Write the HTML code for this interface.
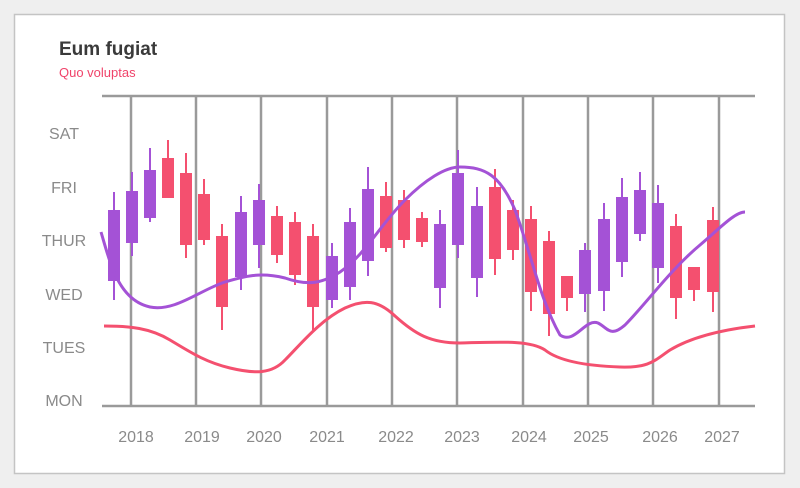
<!DOCTYPE html>
<html><head><meta charset="utf-8"><style>
body{margin:0;background:#efefef;}
svg{display:block;font-family:"Liberation Sans",sans-serif;}
</style></head><body>
<svg width="800" height="488" viewBox="0 0 800 488">
<rect x="0" y="0" width="800" height="488" fill="#efefef"/>
<rect x="14.5" y="14.5" width="770" height="459" fill="#fff" stroke="#c4c4c4" stroke-width="1.5"/>
<text x="59" y="55" font-size="19" font-weight="bold" fill="#3a3a3a">Eum fugiat</text>
<text x="59" y="77" font-size="13" fill="#f0436a">Quo voluptas</text>
<g stroke="#9a9a9a" stroke-width="2.5">
<line x1="102" y1="96" x2="755" y2="96"/><line x1="102" y1="406" x2="755" y2="406"/>
<line x1="131" y1="96" x2="131" y2="406"/><line x1="196" y1="96" x2="196" y2="406"/>
<line x1="261" y1="96" x2="261" y2="406"/><line x1="327" y1="96" x2="327" y2="406"/>
<line x1="392" y1="96" x2="392" y2="406"/><line x1="457" y1="96" x2="457" y2="406"/>
<line x1="523" y1="96" x2="523" y2="406"/><line x1="588" y1="96" x2="588" y2="406"/>
<line x1="653" y1="96" x2="653" y2="406"/><line x1="719" y1="96" x2="719" y2="406"/>
</g>
<g font-size="16" fill="#8a8a8a" text-anchor="middle">
<text x="64" y="139">SAT</text><text x="64" y="193">FRI</text><text x="64" y="246">THUR</text>
<text x="64" y="300">WED</text><text x="64" y="353">TUES</text><text x="64" y="406">MON</text>
<text x="136" y="442">2018</text><text x="202" y="442">2019</text><text x="264" y="442">2020</text>
<text x="327" y="442">2021</text><text x="396" y="442">2022</text><text x="462" y="442">2023</text>
<text x="529" y="442">2024</text><text x="591" y="442">2025</text><text x="660" y="442">2026</text>
<text x="722" y="442">2027</text>
</g>
<g stroke="#a452d6" stroke-width="2">
<line x1="114" y1="192" x2="114" y2="300"/><line x1="132" y1="172" x2="132" y2="256"/><line x1="150" y1="148" x2="150" y2="222"/>
<line x1="241" y1="196" x2="241" y2="290"/><line x1="259" y1="184" x2="259" y2="268"/>
<line x1="332" y1="243" x2="332" y2="308"/><line x1="350" y1="208" x2="350" y2="300"/><line x1="368" y1="167" x2="368" y2="276"/>
<line x1="440" y1="210" x2="440" y2="308"/><line x1="458" y1="150" x2="458" y2="258"/><line x1="477" y1="187" x2="477" y2="297"/>
<line x1="585" y1="243" x2="585" y2="312"/><line x1="604" y1="203" x2="604" y2="311"/><line x1="622" y1="178" x2="622" y2="277"/>
<line x1="640" y1="172" x2="640" y2="241"/><line x1="658" y1="185" x2="658" y2="283"/>
</g>
<g fill="#a452d6">
<rect x="108" y="210" width="12" height="71"/><rect x="126" y="191" width="12" height="52"/><rect x="144" y="170" width="12" height="48"/>
<rect x="235" y="212" width="12" height="65"/><rect x="253" y="200" width="12" height="45"/>
<rect x="326" y="256" width="12" height="44"/><rect x="344" y="222" width="12" height="65"/><rect x="362" y="189" width="12" height="72"/>
<rect x="434" y="224" width="12" height="64"/><rect x="452" y="173" width="12" height="72"/><rect x="471" y="206" width="12" height="72"/>
<rect x="579" y="250" width="12" height="44"/><rect x="598" y="219" width="12" height="72"/><rect x="616" y="197" width="12" height="65"/>
<rect x="634" y="190" width="12" height="44"/><rect x="652" y="203" width="12" height="65"/>
</g>
<g stroke="#f4506f" stroke-width="2">
<line x1="168" y1="140" x2="168" y2="198"/><line x1="186" y1="153" x2="186" y2="258"/><line x1="204" y1="179" x2="204" y2="245"/>
<line x1="222" y1="224" x2="222" y2="330"/><line x1="277" y1="206" x2="277" y2="263"/><line x1="295" y1="212" x2="295" y2="285"/>
<line x1="313" y1="224" x2="313" y2="330"/><line x1="386" y1="182" x2="386" y2="252"/><line x1="404" y1="190" x2="404" y2="248"/>
<line x1="422" y1="212" x2="422" y2="247"/><line x1="495" y1="169" x2="495" y2="275"/><line x1="513" y1="200" x2="513" y2="260"/>
<line x1="531" y1="206" x2="531" y2="311"/><line x1="549" y1="231" x2="549" y2="336"/><line x1="567" y1="276" x2="567" y2="311"/>
<line x1="676" y1="214" x2="676" y2="319"/><line x1="694" y1="267" x2="694" y2="301"/><line x1="713" y1="207" x2="713" y2="312"/>
</g>
<g fill="#f4506f">
<rect x="162" y="158" width="12" height="40"/><rect x="180" y="173" width="12" height="72"/><rect x="198" y="194" width="12" height="46"/>
<rect x="216" y="236" width="12" height="71"/><rect x="271" y="216" width="12" height="39"/><rect x="289" y="222" width="12" height="53"/>
<rect x="307" y="236" width="12" height="71"/><rect x="380" y="196" width="12" height="52"/><rect x="398" y="200" width="12" height="40"/>
<rect x="416" y="218" width="12" height="24"/><rect x="489" y="187" width="12" height="72"/><rect x="507" y="210" width="12" height="40"/>
<rect x="525" y="219" width="12" height="73"/><rect x="543" y="241" width="12" height="73"/><rect x="561" y="276" width="12" height="22"/>
<rect x="670" y="226" width="12" height="72"/><rect x="688" y="267" width="12" height="23"/><rect x="707" y="220" width="12" height="72"/>
</g>
<path d="M104,326 C130,326 150,328 170,340 C190,352 205,362 230,368 C255,374 272,374 285,360 C300,345 320,320 345,308 C365,299 378,300 395,316 C415,334 430,343 460,343 C500,342 530,340 545,350 C560,362 590,366 620,367 C650,368 655,360 670,350 C690,338 720,330 755,326" fill="none" stroke="#f4506f" stroke-width="3"/>
<path d="M101,232 C110,262 118,300 150,307 C175,312 200,290 225,282 C245,276 260,272 285,278 C305,285 320,285 340,272 C365,255 380,225 405,200 C425,180 445,167 460,167 C485,167 500,175 515,210 C530,250 540,300 560,335 C575,345 585,318 598,323 C608,328 610,338 625,325 C645,305 670,270 700,245 C720,228 735,212 745,212" fill="none" stroke="#a452d6" stroke-width="3"/>
</svg>
</body></html>
